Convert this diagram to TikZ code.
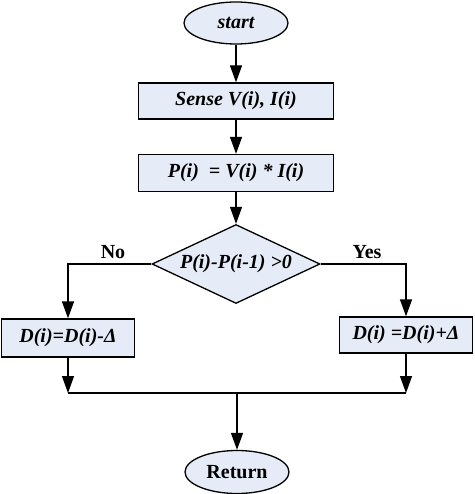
\documentclass[tikz,border=0pt]{standalone}
\usepackage{fontspec}
\setmainfont{Liberation Serif}
\usetikzlibrary{arrows.meta,shapes.geometric}
\definecolor{boxfill}{RGB}{230, 236, 247}

\tikzset{
	base/.style = {draw, line width = 1.3pt, fill = boxfill, font = \bfseries\itshape\fontsize{20}{23}\selectfont},
	term/.style = {base, ellipse, inner sep = 0pt},
	proc/.style = {base, rectangle, inner sep = 0pt},
	decis/.style = {base, diamond, aspect = 2.1, inner sep = 0pt, minimum width = 168pt, minimum height = 79pt},
	arr/.style = {line width = 1.3pt, -{Triangle[length = 17pt, width = 12pt]}},
	lin/.style = {line width = 1.3pt},
	lab/.style = {font = \bfseries\fontsize{20}{23}\selectfont}
}

\begin{document}
\begin{tikzpicture}[x = 1pt, y = -1pt]
			\useasboundingbox (0,0) rectangle (474,494);
			\node (start) at (236,23) [term, minimum width = 104pt, minimum height = 42pt] {start};
			\node (sense) at (236,101) [proc, minimum width = 195pt, minimum height = 36pt] {Sense V(i), I(i)};
			\node (pcalc) at (236,173) [proc, minimum width = 195pt, minimum height = 37pt] {P(i) \ = V(i) * I(i)};
			\node (decide) at (236,264) [decis] {P(i)-P(i-1) >0};
			\node (dec) at (68,338) [proc, minimum width = 133pt, minimum height = 38pt] {D(i)=D(i)-Δ};
			\node (inc) at (406,335) [proc, minimum width = 133pt, minimum height = 36pt] {D(i) =D(i)+Δ};
			\node (ret) at (237,472) [term, font = \bfseries\fontsize{20}{23}\selectfont, minimum width = 104pt, minimum height = 43pt] {Return};
			\coordinate (jl) at (68,393);
			\coordinate (jr) at (406,393);
			\coordinate (jm) at (237,393);
			\node (no) at (113,252) [lab] {No};
			\node (yes) at (367,252) [lab] {Yes};
			\draw [arr] (start) -- (sense);
			\draw [arr] (sense) -- (pcalc);
			\draw [arr] (pcalc) -- (decide);
			\draw [arr] (decide.west) -| (dec.north);
			\draw [arr] (decide.east) -| (inc.north);
			\draw [arr] (dec.south) -- (jl);
			\draw [arr] (inc.south) -- (jr);
			\draw [lin] (jl) -- (jr);
			\draw [arr] (jm) -- (ret);
			\end{tikzpicture}
\end{document}
